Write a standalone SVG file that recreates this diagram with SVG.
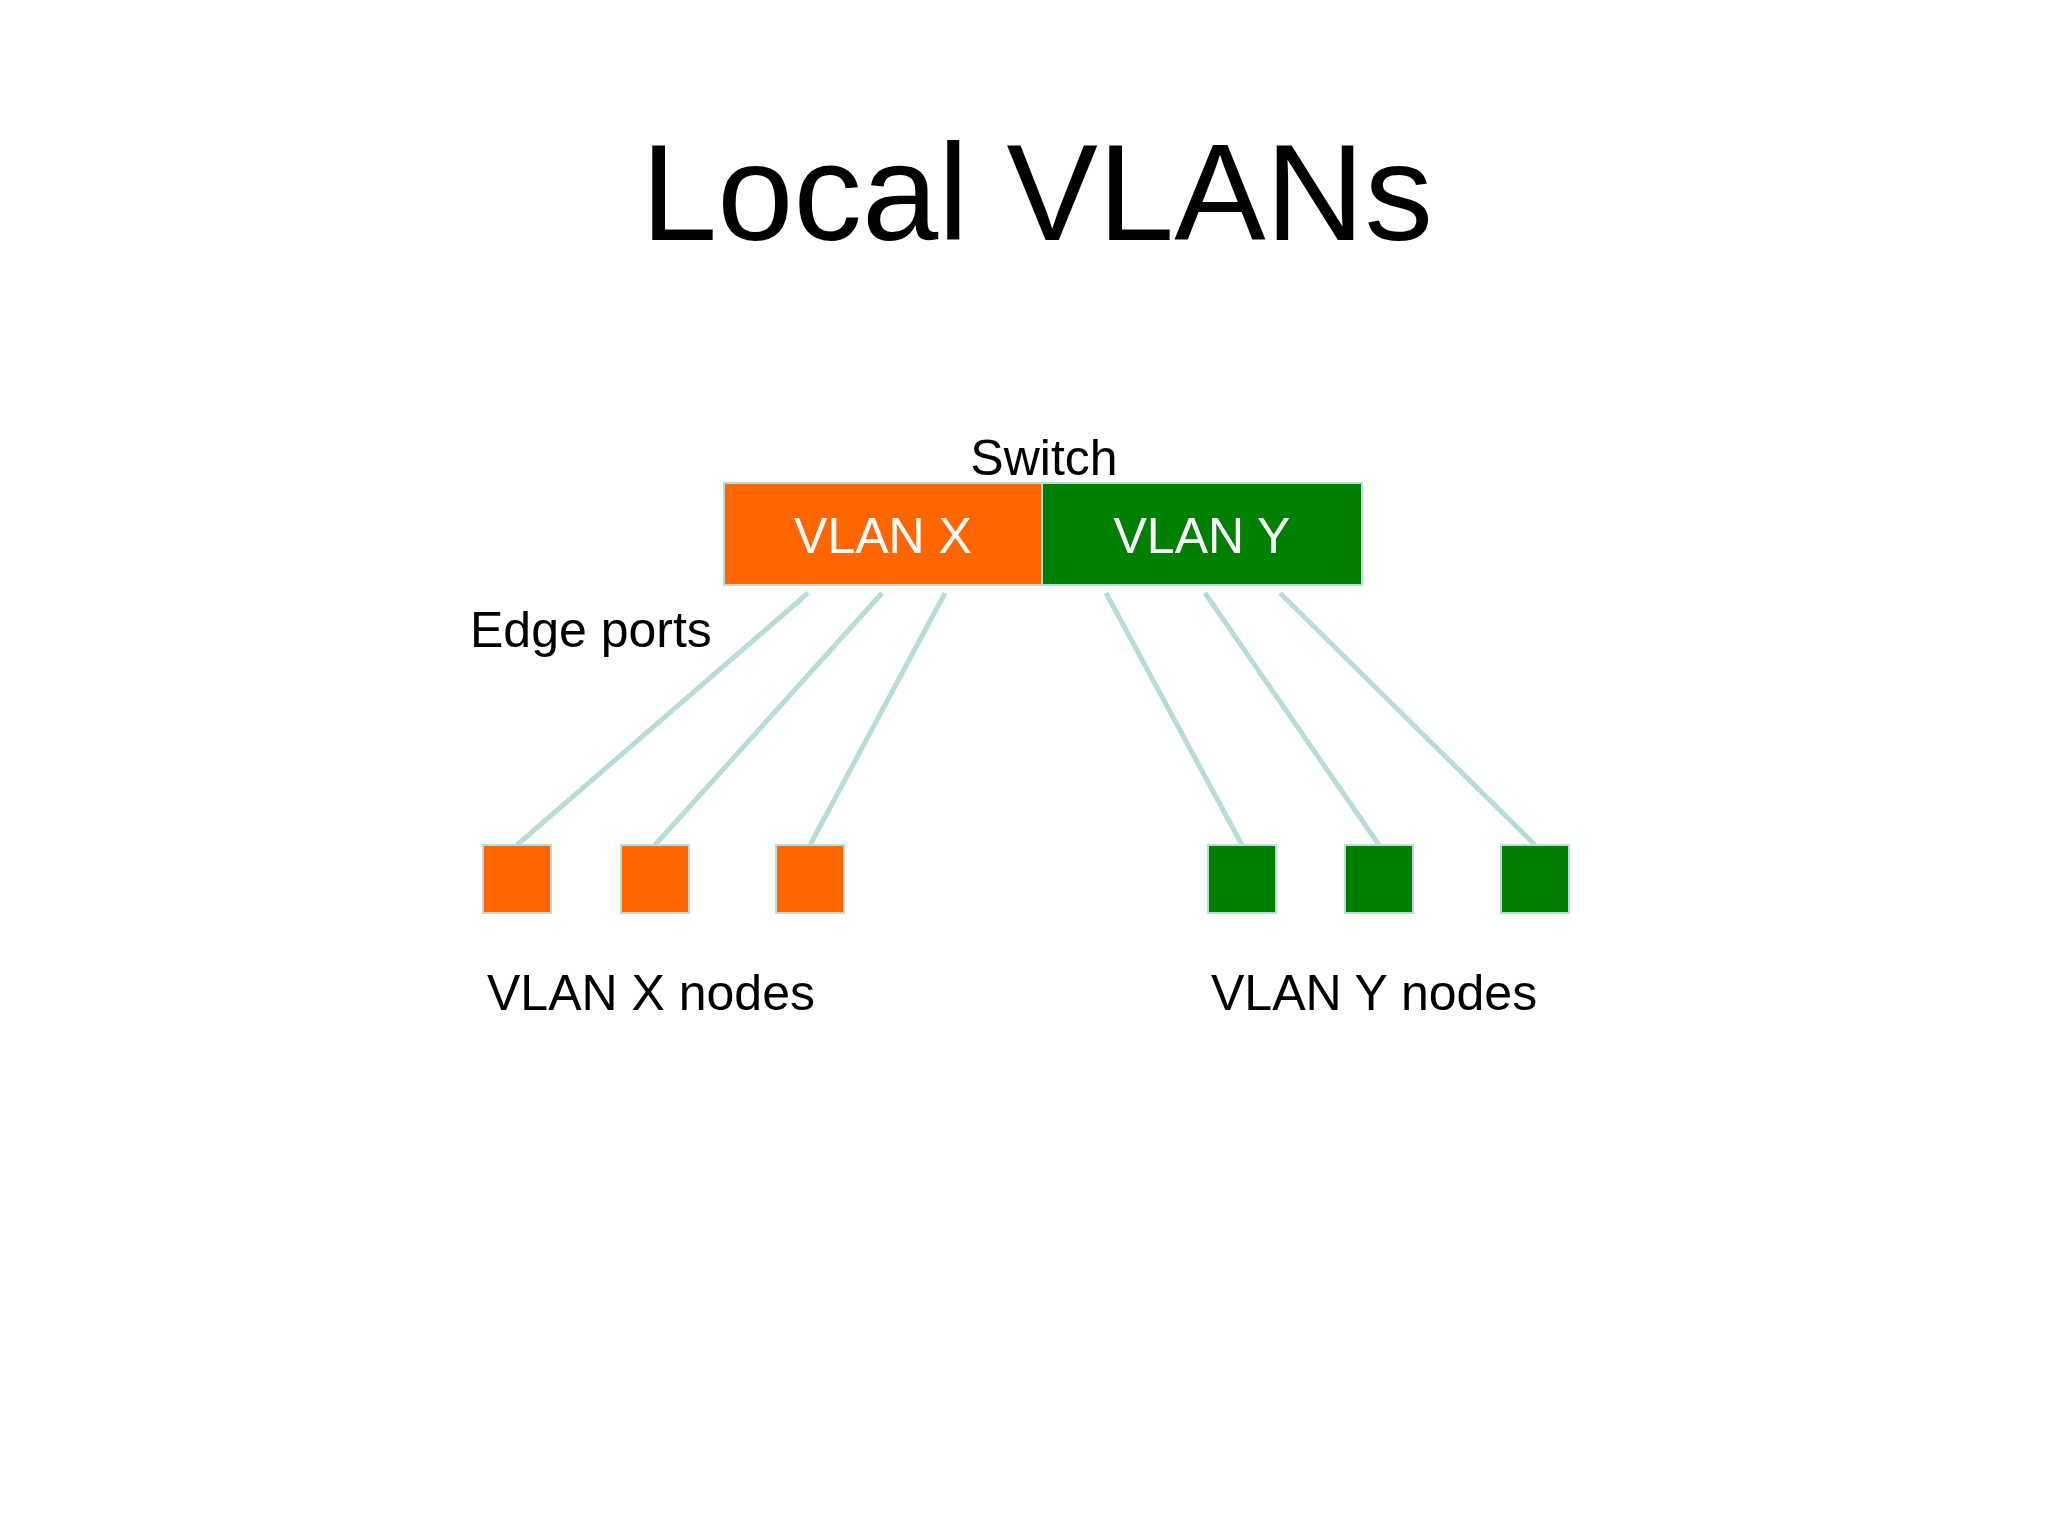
<svg xmlns="http://www.w3.org/2000/svg" width="2048" height="1536" viewBox="0 0 2048 1536">
<style>
text{font-family:"Liberation Sans",Arial,sans-serif;fill:#000}
.or{fill:#ff6600;stroke:#b8ddd8;stroke-width:2}
.gr{fill:#008000;stroke:#b8ddd8;stroke-width:2}
.lbl{font-size:50px}
.w{fill:#fff;font-size:50px;text-anchor:middle}
#connectors line{stroke:#b8ddd8;stroke-width:5}
</style>
<rect width="2048" height="1536" fill="#fff"/>
<text x="1037" y="240" font-size="137" text-anchor="middle">Local VLANs</text>
<g id="connectors">
<line x1="808" y1="593" x2="517" y2="845"/>
<line x1="882" y1="593" x2="655" y2="845"/>
<line x1="945" y1="593" x2="810" y2="845"/>
<line x1="1106" y1="593" x2="1242" y2="845"/>
<line x1="1205" y1="593" x2="1379" y2="845"/>
<line x1="1280" y1="593" x2="1535" y2="845"/>
</g>
<g id="switch-label"><text class="lbl" x="1044" y="475" text-anchor="middle">Switch</text></g>
<g id="vlanx"><rect class="or" x="724" y="483" width="318" height="102"/><text class="w" x="883" y="553">VLAN X</text></g>
<g id="vlany"><rect class="gr" x="1042" y="483" width="320" height="102"/><text class="w" x="1202" y="553">VLAN Y</text></g>
<g id="edge-label"><text class="lbl" x="470" y="647">Edge ports</text></g>
<g id="x1"><rect class="or" x="483" y="845" width="68" height="68"/></g>
<g id="x2"><rect class="or" x="621" y="845" width="68" height="68"/></g>
<g id="x3"><rect class="or" x="776" y="845" width="68" height="68"/></g>
<g id="y1"><rect class="gr" x="1208" y="845" width="68" height="68"/></g>
<g id="y2"><rect class="gr" x="1345" y="845" width="68" height="68"/></g>
<g id="y3"><rect class="gr" x="1501" y="845" width="68" height="68"/></g>
<g id="xlabel"><text class="lbl" x="487" y="1010">VLAN X nodes</text></g>
<g id="ylabel"><text class="lbl" x="1211" y="1010">VLAN Y nodes</text></g>
</svg>
